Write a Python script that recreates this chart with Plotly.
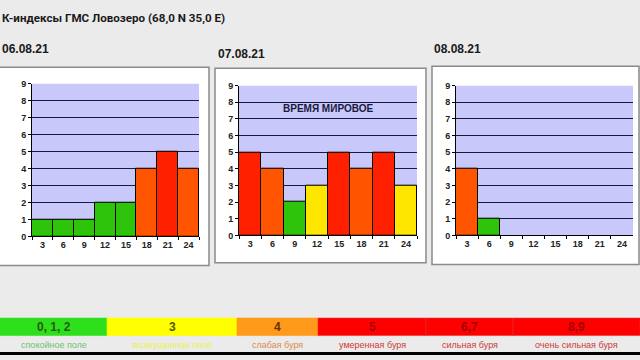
import plotly.graph_objects as go

# ---------------- data ----------------
title_text = "К-индексы ГМС Ловозеро (68,0 N 35,0 E)"
hours = ["3", "6", "9", "12", "15", "18", "21", "24"]
dates = ["06.08.21", "07.08.21", "08.08.21"]
k_day1 = [1, 1, 1, 2, 2, 4, 5, 4]
k_day2 = [5, 4, 2, 3, 5, 4, 5, 3]
k_day3 = [4, 1, None, None, None, None, None, None]
note_text = "ВРЕМЯ МИРОВОЕ"

scale_values = ["0, 1, 2", "3", "4", "5", "6,7", "8,9"]
scale_labels = ["спокойное поле", "возмущенное поле", "слабая буря",
                "умеренная буря", "сильная буря", "очень сильная буря"]

# ---------------- style ----------------
W, H = 640, 360
BG = "#ebebeb"
LAV = "#c8c8fa"

def px_x(p):
    return p / W

def px_y(p):
    return 1 - p / H

def bar_color(k):
    if k is None:
        return "rgba(0,0,0,0)"
    if k <= 2:
        return "#2ec40c"
    if k == 3:
        return "#ffe600"
    if k == 4:
        return "#ff5500"
    return "#ff2000"

# panel pixel geometry: frame (x0,y0,x1,y1), plot (x0,y0,x1,y1)
frames = [(-2, 64, 209, 268), (215, 65, 426, 265), (432, 63, 639, 267)]
plots = [(32, 81, 199, 238), (239, 83, 417, 237), (456, 83, 633, 237)]
date_pos = [(0, 45), (216, 50), (432, 45)]

fig = go.Figure()
series = [k_day1, k_day2, k_day3]
shapes = []
annotations = []
tickfont = dict(family="Liberation Sans, Arial", size=9, color="#222222", weight="bold")

for i, (vals, plot, frame) in enumerate(zip(series, plots, frames)):
    idx = "" if i == 0 else str(i + 1)
    fig.add_trace(go.Bar(
        x=hours, y=vals,
        marker=dict(color=[bar_color(v) for v in vals],
                    line=dict(color="#000000", width=1)),
        xaxis="x" + idx, yaxis="y" + idx,
        showlegend=False, hoverinfo="x+y",
    ))
    fig.layout["xaxis" + idx] = dict(
        domain=[px_x(plot[0]), px_x(plot[2])],
        anchor="y" + idx, type="category",
        categoryorder="array", categoryarray=hours,
        showline=True, linecolor="#000000", linewidth=1,
        ticks="outside", ticklen=3, tickcolor="#000000",
        tickson="boundaries", showgrid=False,
        tickfont=tickfont, fixedrange=True,
    )
    fig.layout["yaxis" + idx] = dict(
        domain=[px_y(plot[3]), px_y(plot[1])],
        anchor="x" + idx, range=[0, 9], dtick=1,
        showline=True, linecolor="#000000", linewidth=1,
        ticks="outside", ticklen=3, tickcolor="#000000",
        showgrid=True, gridcolor="#1a1a3c", gridwidth=1,
        zeroline=False, tickfont=tickfont, fixedrange=True,
    )
    # white panel frame
    shapes.append(dict(type="rect", xref="paper", yref="paper", layer="below",
                       x0=px_x(frame[0]), x1=px_x(frame[2]),
                       y0=px_y(frame[3]), y1=px_y(frame[1]),
                       fillcolor="#ffffff", line=dict(color="#8a8a8a", width=1.5)))
    # lavender plot area
    shapes.append(dict(type="rect", xref="x" + idx + " domain", yref="y" + idx + " domain",
                       layer="below", x0=0, x1=1, y0=0, y1=1,
                       fillcolor=LAV, line=dict(width=0)))
    annotations.append(dict(text=dates[i], xref="paper", yref="paper",
                            x=px_x(date_pos[i][0]), y=px_y(date_pos[i][1]),
                            xanchor="left", yanchor="middle", showarrow=False,
                            font=dict(family="Liberation Sans, Arial", size=12,
                                      color="#1a1a1a", weight="bold")))

# title
annotations.append(dict(text=title_text, xref="paper", yref="paper",
                        x=0, y=px_y(13), xanchor="left", yanchor="middle",
                        showarrow=False,
                        font=dict(family="Roboto", size=11.6,
                                  color="#1a1a1a", weight="bold")))
# note in panel 2
annotations.append(dict(text=note_text, xref="x2 domain", yref="y2",
                        x=0.5, y=7.6, xanchor="center", yanchor="middle",
                        showarrow=False,
                        font=dict(family="Liberation Sans, Arial", size=10,
                                  color="#1a1a40", weight="bold")))

# colour scale key at the bottom
seg_edges = [0, 107, 237, 318, 426, 513, 640]
seg_fill = ["#2ee01c", "#ffff00", "#ff9a1a", "#ff0000", "#ff0000", "#ff0000"]
seg_text = ["#2a5a10", "#555500", "#6a3000", "#a00000", "#a00000", "#a00000"]
lab_col = ["#6cc46c", "#eeee50", "#dd8a50", "#cc3a3a", "#cc3a3a", "#cc3a3a"]
for j in range(len(scale_values)):
    x0, x1 = seg_edges[j], seg_edges[j + 1]
    shapes.append(dict(type="rect", xref="paper", yref="paper", layer="below",
                       x0=px_x(x0), x1=px_x(x1), y0=px_y(340), y1=px_y(322),
                       fillcolor=seg_fill[j],
                       line=dict(color="#e03030" if j >= 3 else seg_fill[j], width=0.6)))
    annotations.append(dict(text=scale_values[j], xref="paper", yref="paper",
                            x=px_x((x0 + x1) / 2), y=px_y(331),
                            xanchor="center", yanchor="middle", showarrow=False,
                            font=dict(family="Liberation Sans, Arial", size=12,
                                      color=seg_text[j], weight="bold")))
    annotations.append(dict(text=scale_labels[j], xref="paper", yref="paper",
                            x=px_x((x0 + x1) / 2), y=px_y(350),
                            xanchor="center", yanchor="middle", showarrow=False,
                            font=dict(family="Liberation Sans, Arial", size=9,
                                      color=lab_col[j])))

# black strip at bottom edge
shapes.append(dict(type="rect", xref="paper", yref="paper", layer="below",
                   x0=0, x1=1, y0=0, y1=px_y(357),
                   fillcolor="#000000", line=dict(width=0)))

fig.update_layout(
    width=W, height=H,
    margin=dict(l=0, r=0, t=0, b=0),
    paper_bgcolor=BG, plot_bgcolor=LAV,
    bargap=0,
    shapes=shapes, annotations=annotations,
    showlegend=False,
)

fig.write_html("out.html",
               config={"displayModeBar": False},
               post_script="document.body.style.margin='0';document.body.style.overflow='hidden';")
